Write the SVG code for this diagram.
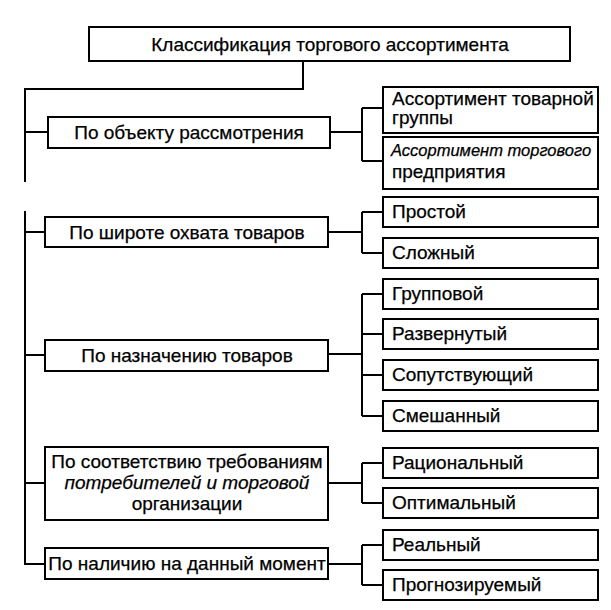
<svg xmlns="http://www.w3.org/2000/svg" width="611" height="610" viewBox="0 0 611 610">
<style>
.box{fill:#fff;stroke:#000;stroke-width:2}
.ln{fill:none;stroke:#000;stroke-width:2}
text{font-family:"Liberation Sans",Arial,sans-serif;font-size:19px;fill:#000;stroke:#000;stroke-width:0.25}
.c{text-anchor:middle}
.i{font-style:italic}
.s{font-size:16.5px}
</style>
<rect width="611" height="610" fill="#fff"/>
<g id="connectors" class="ln">
<path d="M303 61V89H25V182"/>
<path d="M25 211V564H45"/>
<path d="M25 132H48M25 232H45M25 355H45M25 483H45"/>
<path d="M330 132H362M362 108V161M362 108H383M362 161H383"/>
<path d="M328 232H362M362 212V253M362 212H383M362 253H383"/>
<path d="M328 354H362M362 294V416M362 294H383M362 334H383M362 375H383M362 416H383"/>
<path d="M328 483H362M362 463V503M362 463H383M362 503H383"/>
<path d="M328 564H362M362 545V585M362 545H383M362 585H383"/>
</g>
<g id="root"><rect class="box" x="89" y="27" width="481" height="34"/><text class="c" x="330" y="51">Классификация торгового ассортимента</text></g>
<g id="n1"><rect class="box" x="48" y="117" width="282" height="31"/><text class="c" x="189" y="139">По объекту рассмотрения</text></g>
<g id="n2"><rect class="box" x="45" y="217" width="283" height="30"/><text class="c" x="187" y="239">По широте охвата товаров</text></g>
<g id="n3"><rect class="box" x="45" y="340" width="283" height="31"/><text class="c" x="187" y="362">По назначению товаров</text></g>
<g id="n4"><rect class="box" x="45" y="447" width="283" height="73"/><text class="c" x="187" y="468">По соответствию требованиям</text><text class="c i" x="187" y="489">потребителей и торговой</text><text class="c" x="187" y="510">организации</text></g>
<g id="n5"><rect class="box" x="45" y="548" width="283" height="31"/><text class="c" x="187" y="570">По наличию на данный момент</text></g>
<g id="r1"><rect class="box" x="383" y="87" width="215" height="46"/><text x="392" y="105">Ассортимент товарной</text><text x="392" y="124">группы</text></g>
<g id="r2"><rect class="box" x="383" y="137" width="215" height="52"/><text class="i s" x="391" y="156">Ассортимент торгового</text><text x="392" y="178">предприятия</text></g>
<g id="r3"><rect class="box" x="383" y="197" width="215" height="30"/><text x="392" y="218">Простой</text></g>
<g id="r4"><rect class="box" x="383" y="238" width="215" height="30"/><text x="392" y="259">Сложный</text></g>
<g id="r5"><rect class="box" x="383" y="279" width="215" height="30"/><text x="392" y="300">Групповой</text></g>
<g id="r6"><rect class="box" x="383" y="319" width="215" height="30"/><text x="392" y="340">Развернутый</text></g>
<g id="r7"><rect class="box" x="383" y="360" width="215" height="30"/><text x="392" y="381">Сопутствующий</text></g>
<g id="r8"><rect class="box" x="383" y="401" width="215" height="30"/><text x="392" y="422">Смешанный</text></g>
<g id="r9"><rect class="box" x="383" y="448" width="215" height="30"/><text x="392" y="469">Рациональный</text></g>
<g id="r10"><rect class="box" x="383" y="488" width="215" height="30"/><text x="392" y="509">Оптимальный</text></g>
<g id="r11"><rect class="box" x="383" y="530" width="215" height="30"/><text x="392" y="551">Реальный</text></g>
<g id="r12"><rect class="box" x="383" y="570" width="215" height="30"/><text x="392" y="591">Прогнозируемый</text></g>
</svg>
